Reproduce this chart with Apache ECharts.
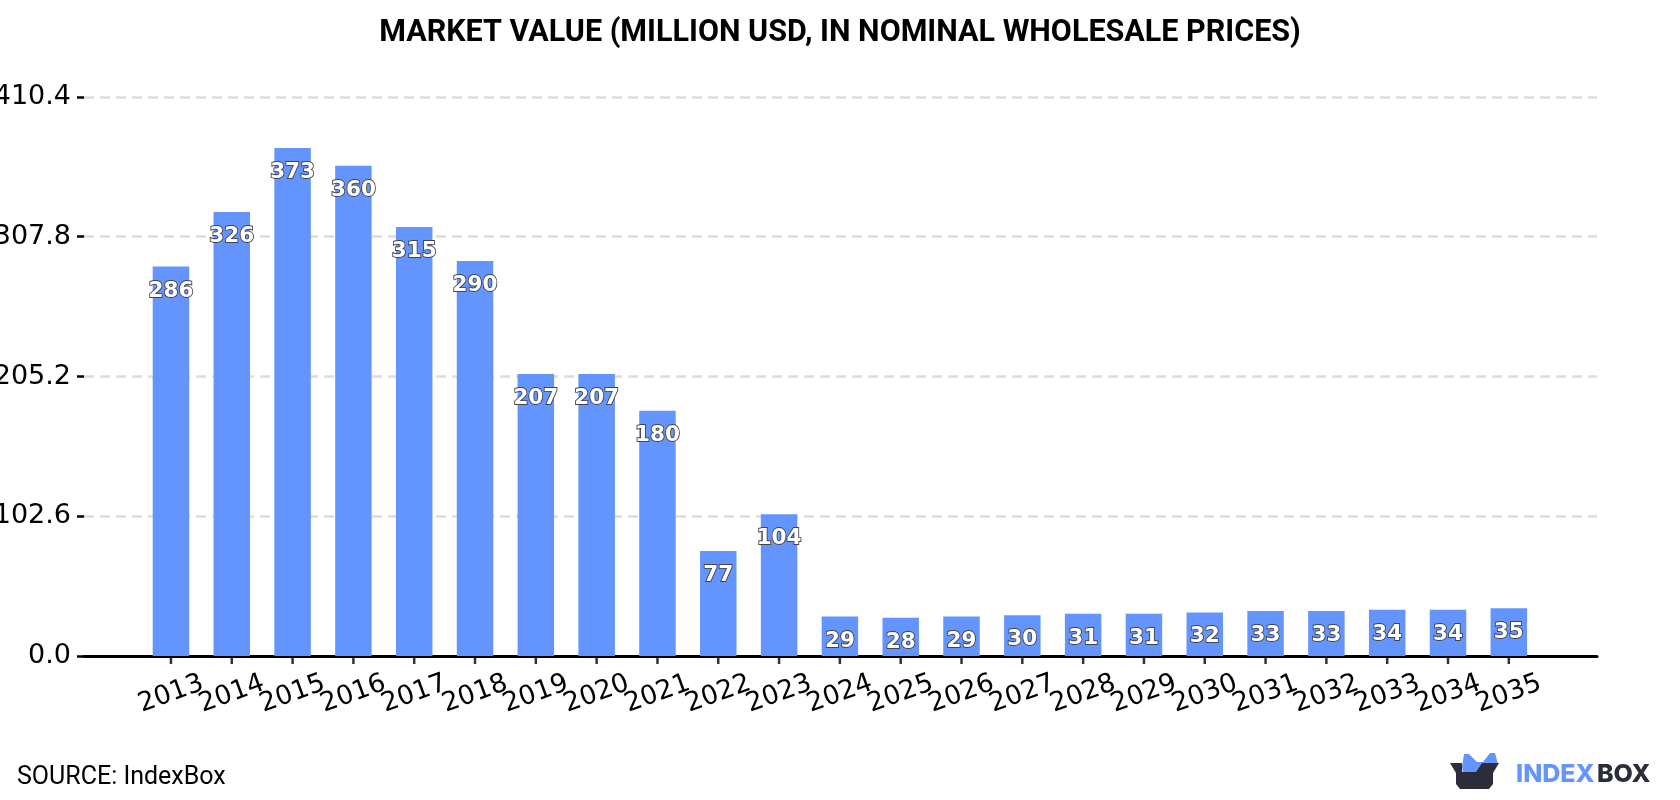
<!DOCTYPE html>
<html>
<head>
<meta charset="utf-8">
<style>html,body{margin:0;padding:0;background:#fff}#chart{width:1680px;height:800px}</style>
<script src="https://cdn.jsdelivr.net/npm/echarts@6/dist/echarts.min.js"></script>
</head>
<body>
<div id="chart"></div>
<script>
const years = [2013,2014,2015,2016,2017,2018,2019,2020,2021,2022,2023,2024,2025,2026,2027,2028,2029,2030,2031,2032,2033,2034,2035];
const marketValue = [286,326,373,360,315,290,207,207,180,77,104,29,28,29,30,31,31,32,33,33,34,34,35];
const titleText = 'MARKET VALUE (MILLION USD, IN NOMINAL WHOLESALE PRICES)';
const sourceText = 'SOURCE: IndexBox';
const xMin = 2011.57, xMax = 2036.45;

const chart = echarts.init(document.getElementById('chart'), null, {renderer:'canvas'});
chart.setOption({
  animation:false,
  backgroundColor:'#fff',
  title:[
    {text:titleText,left:'center',top:13,textStyle:{fontFamily:'Roboto',fontWeight:'bold',fontSize:30.5,color:'#000'}},
    {text:sourceText,left:12,top:760,textStyle:{fontFamily:'Roboto',fontWeight:'normal',fontSize:25,color:'#000'}}
  ],
  grid:{left:84,right:83,top:97,bottom:144,containLabel:false,outerBoundsMode:'none'},
  xAxis:{
    type:'value',min:xMin,max:xMax,containShape:false,
    splitLine:{show:false},
    axisLine:{show:true,onZero:true,lineStyle:{color:'#000',width:3}},
    axisTick:{show:false},
    axisLabel:{show:true,customValues:[xMin,...years,xMax],showMinLabel:false,showMaxLabel:false,hideOverlap:false,rotate:20,align:'center',verticalAlign:'middle',margin:38,
      fontFamily:'DejaVu Sans',fontSize:26.5,color:'#000',formatter:v=>String(v)}
  },
  yAxis:{
    type:'value',min:0,max:410.4,interval:102.6,
    axisLine:{show:false},
    axisTick:{show:true,length:7,lineStyle:{color:'#000',width:2.5}},
    splitLine:{show:true,lineStyle:{color:'#dddddd',width:2.5,type:[10,6]}},
    axisLabel:{margin:13,fontFamily:'DejaVu Sans',fontSize:27,color:'#000',formatter:v=>v.toFixed(1)}
  },
  series:[{
    type:'bar',
    data:years.map((y,i)=>[y,marketValue[i]]),
    barWidth:36.5,
    itemStyle:{color:'#6495ff'},
    label:{show:true,position:'insideTop',distance:13.5,formatter:p=>String(p.value[1]),
      fontFamily:'DejaVu Sans',fontWeight:'bold',fontSize:21.5,color:'#fff',
      textBorderColor:'#444',textBorderWidth:1.8}
  },{
    // year tick marks hanging under the baseline
    type:'scatter',
    data:years.map(y=>[y,0]),
    symbol:'rect',symbolSize:[2.5,8],symbolOffset:[0,4],
    clip:false,silent:true,
    itemStyle:{color:'#000'}
  }],
  graphic:[
    // IndexBox mark: open box with a blue crown
    {type:'polygon',shape:{points:[[1462,767],[1464,754],[1469,754],[1477,762],[1483,762],[1490,753],[1495,753],[1498,764],[1486,773],[1463,773]]},style:{fill:'#6495ff'}},
    {type:'polygon',shape:{points:[[1450,763],[1462,763],[1462,772],[1476,772],[1482,763],[1499,763],[1493,773],[1493,784],[1489,789],[1460,789],[1456,784],[1456,773]]},style:{fill:'#2b2d3a'}},
    {type:'text',left:1516,top:762,style:{text:'INDEX',fontFamily:'Inter',fontWeight:800,fontSize:25,letterSpacing:4,fill:'#6495ff'}},
    {type:'text',left:1597,top:762,style:{text:'BOX',fontFamily:'Inter',fontWeight:800,fontSize:25,letterSpacing:1,fill:'#2b2d3a'}}
  ]
});
</script>
</body>
</html>
